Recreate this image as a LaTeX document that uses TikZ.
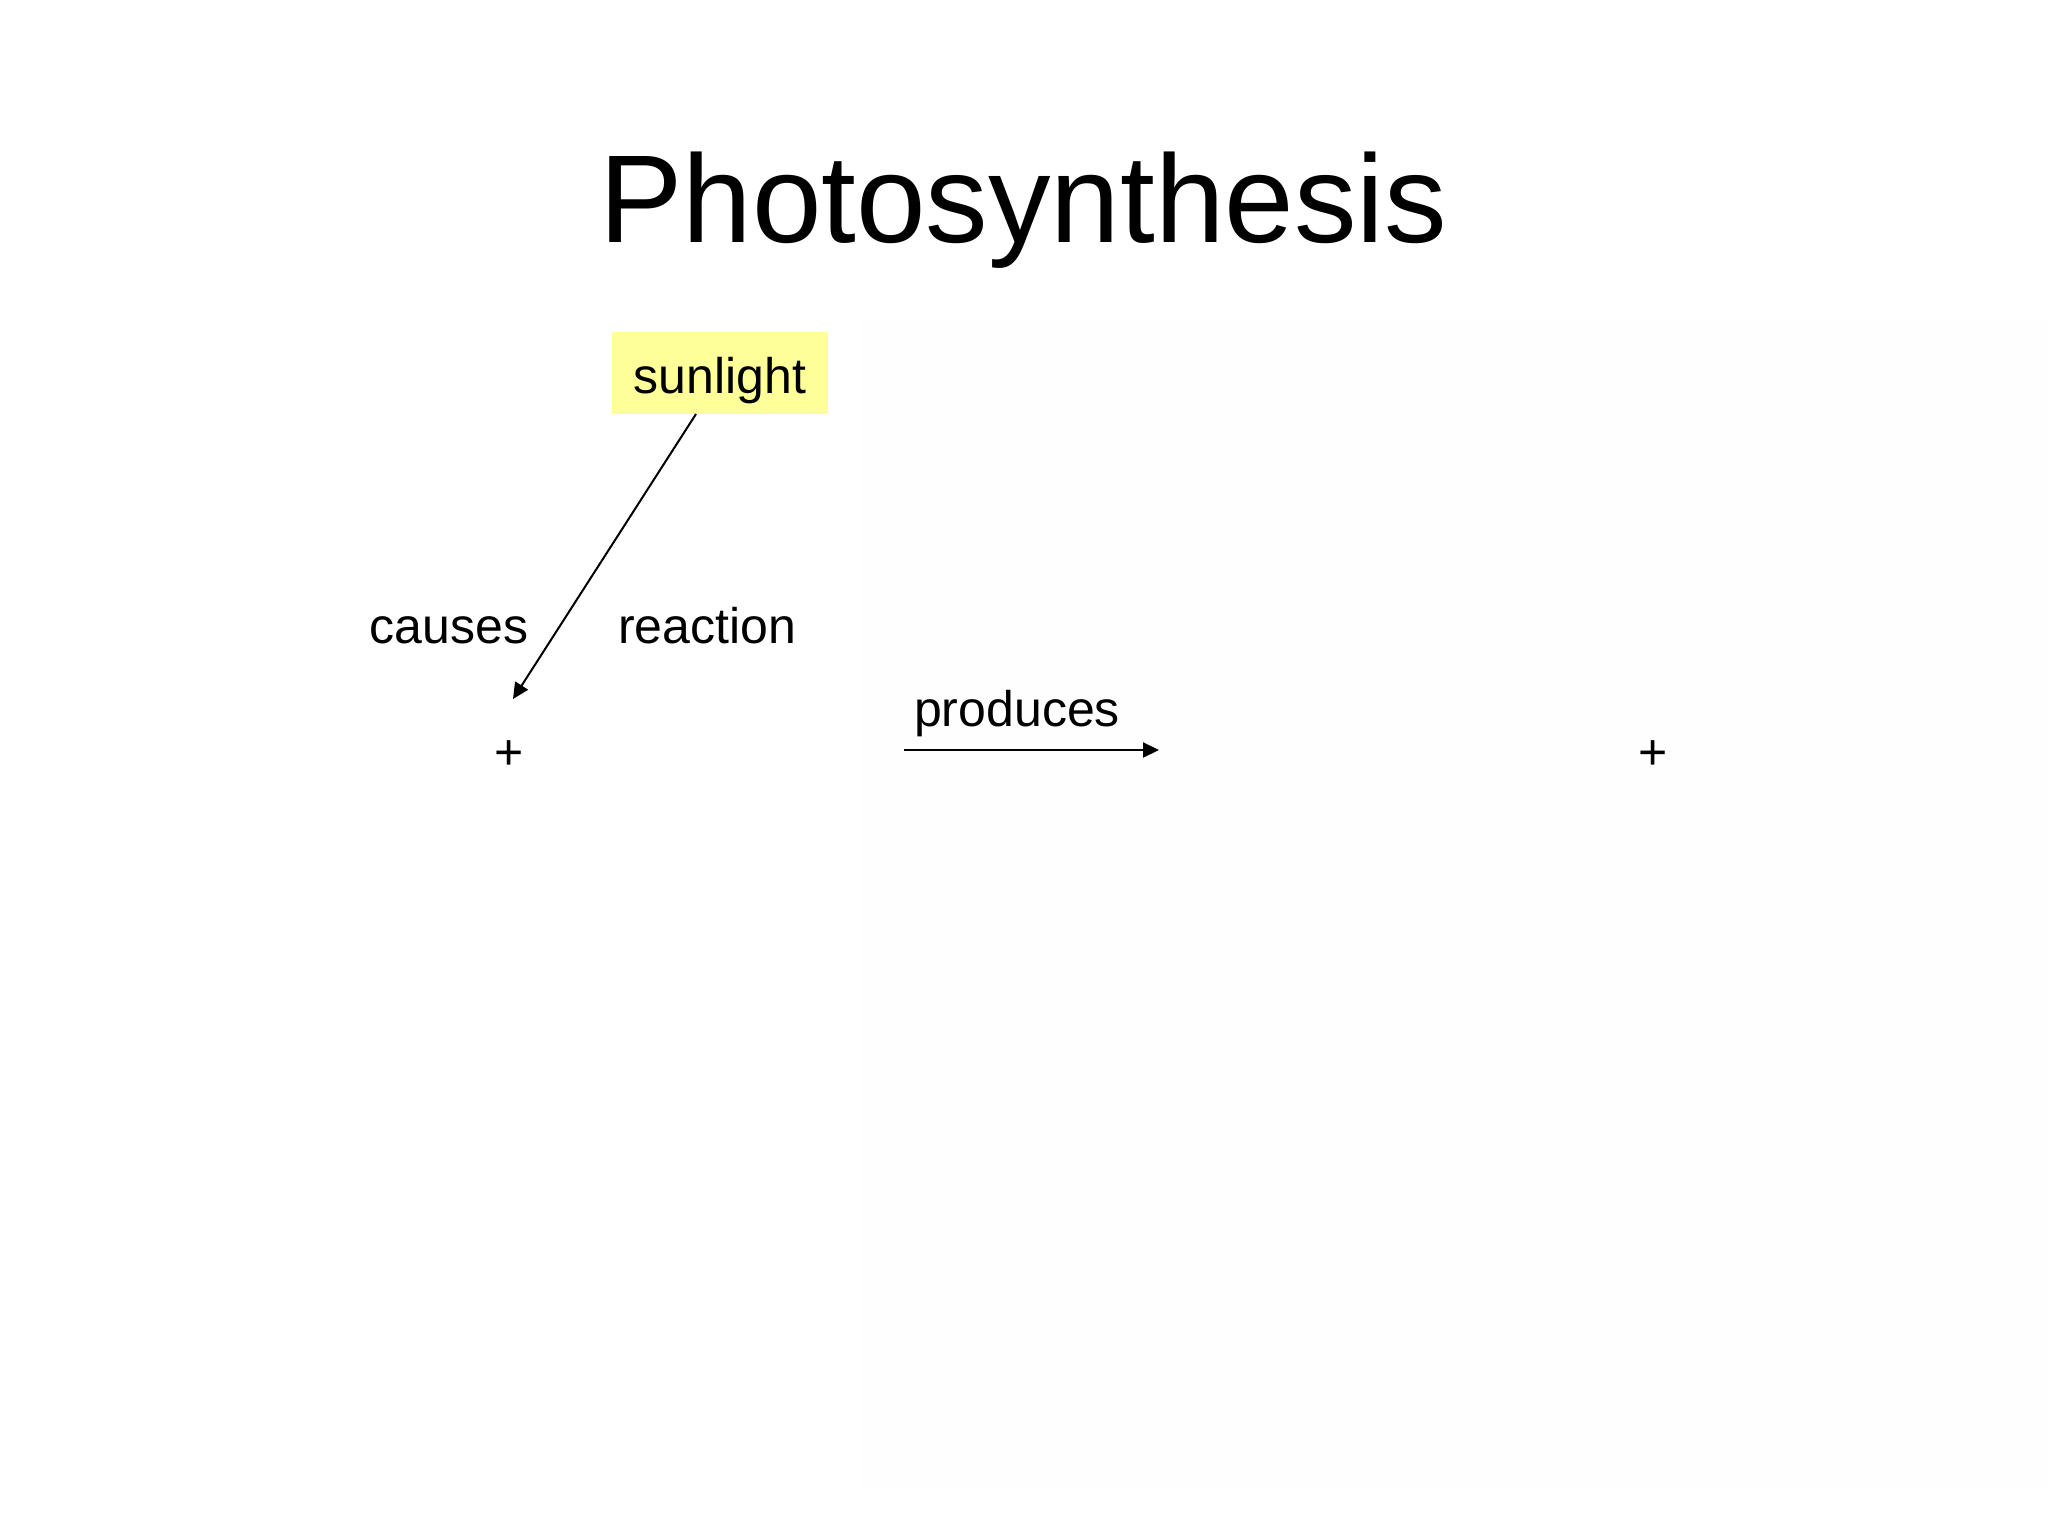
\documentclass[tikz,border=0pt]{standalone}
\usepackage{fontspec}
\setmainfont{Liberation Sans}
\usetikzlibrary{arrows.meta}
\definecolor{sunyellow}{RGB}{255,255,153}
\definecolor{faintbg}{RGB}{254,254,254}
\tikzset{
  lbl/.style={anchor=base, inner sep=0pt, font=\fontsize{50}{60}\selectfont},
  titlelbl/.style={anchor=base, inner sep=0pt, font=\fontsize{125}{150}\selectfont},
  arr/.style={line width=2pt, -{Triangle[length=16pt,width=15pt]}},
}
\begin{document}
\begin{tikzpicture}[x=1pt,y=-1pt]
\useasboundingbox (0,0) rectangle (2048,1536);
\fill[white] (0,0) rectangle (2048,1536);
\fill[faintbg] (862,320) rectangle (2048,1490);
\node[titlelbl] (title) at (1023,242) {Photosynthesis};
\node[fill=sunyellow, inner sep=0pt, minimum width=216pt, minimum height=82pt,
      text height=40pt, text depth=0pt, font=\fontsize{50}{60}\selectfont]
      (sun) at (720,373) {sunlight};
\node[lbl] (causes) at (449,643) {causes};
\node[lbl] (reaction) at (707,643) {reaction};
\node[lbl] (plusA) at (509,769) {+};
\node[lbl] (produces) at (1017,726) {produces};
\node[lbl] (plusB) at (1653,769) {+};
\coordinate (sunout) at (696,414);
\coordinate (causeend) at (513,699);
\coordinate (prodstart) at (904,750);
\coordinate (prodend) at (1159,750);
\draw[arr] (sunout) -- (causeend);
\draw[arr] (prodstart) -- (prodend);
\end{tikzpicture}
\end{document}
